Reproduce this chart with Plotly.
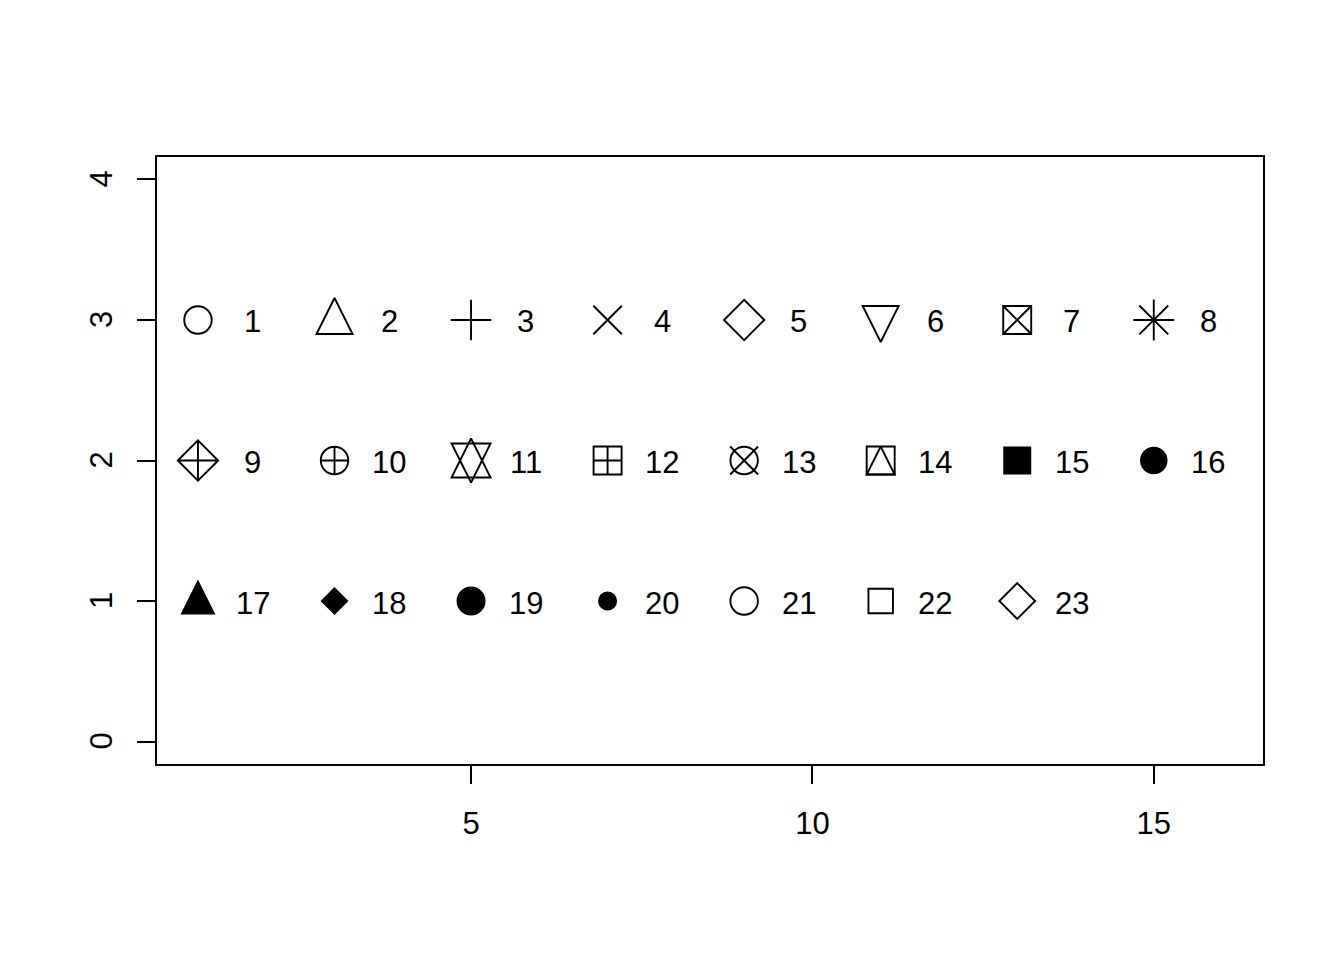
"""R's 23 plotting symbols (pch 1..23) drawn with plotly markers
"""

import plotly.graph_objects as go

# symbol numbers, one per point, three rows
pch = [1, 2, 3, 4, 5, 6, 7, 8,
       9, 10, 11, 12, 13, 14, 15, 16,
       17, 18, 19, 20, 21, 22, 23]

# where each symbol sits (data units)
x_pos = [1, 3, 5, 7, 9, 11, 13, 15,
         1, 3, 5, 7, 9, 11, 13, 15,
         1, 3, 5, 7, 9, 11, 13]
y_pos = [3, 3, 3, 3, 3, 3, 3, 3,
         2, 2, 2, 2, 2, 2, 2, 2,
         1, 1, 1, 1, 1, 1, 1]

# the number label is written this far to the right of its symbol
label_gap = 0.8

x_ticks = [5, 10, 15]
y_ticks = [0, 1, 2, 3, 4]
x_range = [0.4, 16.6]
y_range = [-0.16, 4.16]

FONT = "Arial, Liberation Sans, sans-serif"
LINE_W = 1.9

# plotly has no exact match for some R symbols, so a few are stacked
# layers: (plotly symbol, size px, angle, standoff px)
layers = {
    1: [("circle-open", 27.5, 0, 0)],
    2: [("arrow-down-open", 36, 180, 22)],
    3: [("cross-thin-open", 29, 0, 0)],
    4: [("x-thin-open", 28.5, 0, 0)],
    5: [("diamond-open", 31, 0, 0)],
    6: [("arrow-down-open", 36, 0, 22)],
    7: [("square-x-open", 28, 0, 0)],
    8: [("asterisk-open", 34, 0, 0)],
    9: [("diamond-cross-open", 31, 0, 0)],
    10: [("circle-cross-open", 27.5, 0, 0)],
    11: [("arrow-down-open", 39, 180, 22), ("arrow-down-open", 39, 0, 22)],
    12: [("square-cross-open", 28, 0, 0)],
    13: [("circle-open", 27.5, 0, 0), ("x-thin-open", 28, 0, 0)],
    14: [("square-open", 28, 0, 0), ("arrow-down-open", 28, 180, 14)],
    15: [("square", 28, 0, 0)],
    16: [("circle", 27.5, 0, 0)],
    17: [("arrow-down", 35, 180, 21.5)],
    18: [("diamond", 21.5, 0, 0)],
    19: [("circle", 29, 0, 0)],
    20: [("circle", 19, 0, 0)],
    21: [("circle-open", 27.5, 0, 0)],
    22: [("square-open", 24.5, 0, 0)],
    23: [("diamond-open", 27.5, 0, 0)],
}

fig = go.Figure()

# one trace per symbol layer
for p, x, y in zip(pch, x_pos, y_pos):
    for symbol, size, angle, standoff in layers[p]:
        is_open = symbol.endswith("-open")
        fig.add_trace(go.Scatter(
            x=[x], y=[y],
            mode="markers",
            marker=dict(
                symbol=symbol,
                size=size,
                angle=angle,
                standoff=standoff,
                color="black",
                line=dict(color="black", width=LINE_W if is_open else 0),
            ),
            hoverinfo="skip",
        ))

# the numbers next to the symbols (nudged down a little to sit level)
for p, x, y in zip(pch, x_pos, y_pos):
    fig.add_annotation(
        x=x + label_gap, y=y,
        text=str(p),
        showarrow=False,
        xanchor="center", yanchor="middle",
        yshift=-2,
        font=dict(family=FONT, size=31, color="black"),
    )

axis_style = dict(
    showgrid=False,
    zeroline=False,
    showline=True,
    mirror=True,
    linecolor="black",
    linewidth=2,
    ticks="outside",
    ticklen=18,
    tickwidth=2,
    tickcolor="black",
    ticklabelstandoff=13,
    tickfont=dict(family=FONT, size=31, color="black"),
)

# the page body has an 8px margin, so the figure is 8px smaller each way
fig.update_layout(
    width=1336,
    height=952,
    margin=dict(l=149, r=81, t=149, b=196),
    paper_bgcolor="white",
    plot_bgcolor="white",
    showlegend=False,
    xaxis=dict(range=x_range, tickvals=x_ticks, **axis_style),
    yaxis=dict(range=y_range, tickvals=y_ticks, tickangle=-90,
               ticklabelshift=4, **axis_style),
)

fig.write_html("out.html")
